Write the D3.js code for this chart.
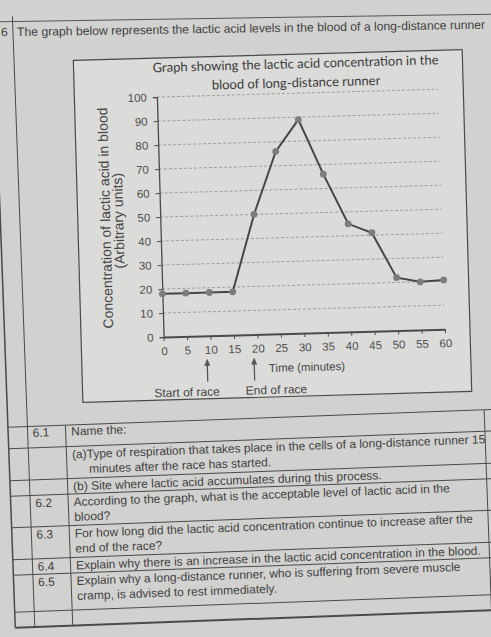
<!DOCTYPE html>
<html>
<head>
<meta charset="utf-8">
<title>Lactic acid in the blood of a long-distance runner</title>
<script src="https://d3js.org/d3.v7.min.js"></script>
<style>
  body { margin: 0; background: #d1d1cf; }
  svg { display: block; }
  text { white-space: pre; }
</style>
</head>
<body>
<script>

// data
var times = [0, 5, 10, 15, 20, 25, 30, 35, 40, 45, 50, 55, 60];
var lactic = [18, 18, 18, 18, 50, 76, 89, 66, 45, 41, 22, 20, 20.5];
var x_ticks = [0, 5, 10, 15, 20, 25, 30, 35, 40, 45, 50, 55, 60];
var y_ticks = [0, 10, 20, 30, 40, 50, 60, 70, 80, 90, 100];
var event_times = [10, 20];
var event_labels = ["Start of race", "End of race"];

var title_lines = ["Graph showing the lactic acid concentration in the", "blood of long-distance runner"];
var y_label_lines = ["Concentration of lactic acid in blood", "(Arbitrary units)"];
var x_label = "Time (minutes)";

var q_number = "6";
var intro = "The graph below represents the lactic acid levels in the blood of a long-distance runner";
var row_numbers = ["6.1", "", "", "6.2", "6.3", "6.4", "6.5", ""];
var row_texts = [
  ["Name the:"],
  ["(a)Type of respiration that takes place in the cells of a long-distance runner 15", "     minutes after the race has started."],
  ["(b) Site where lactic acid accumulates during this process."],
  ["According to the graph, what is the acceptable level of lactic acid in the", "blood?"],
  ["For how long did the lactic acid concentration continue to increase after the", "end of the race?"],
  ["Explain why there is an increase in the lactic acid concentration in the blood."],
  ["Explain why a long-distance runner, who is suffering from severe muscle", "cramp, is advised to rest immediately."],
  []
];
var row_heights = [21.5, 32, 15.5, 31.5, 32, 15.5, 37, 15.5];

var width = 491, height = 637;
var ink = "#3e3e3e";

var svg = d3.select("body").append("svg")
  .attr("width", width)
  .attr("height", height);

// the photo is a bit skewed, so every part gets its own small tilt
// --- header row
var head = svg.append("g").attr("transform", "rotate(-0.9,245,30)");
head.append("line")
  .attr("x1", -10).attr("x2", width + 10)
  .attr("y1", 18).attr("y2", 18)
  .attr("stroke", "#555").attr("stroke-width", 1);
head.append("text")
  .attr("x", 1).attr("y", 32.5)
  .attr("font-family", "Liberation Sans, Arial, sans-serif")
  .attr("font-size", 12.2)
  .attr("fill", ink)
  .text(q_number);
head.append("text")
  .attr("x", 17).attr("y", 32.5)
  .attr("font-family", "Liberation Sans, Arial, sans-serif")
  .attr("font-size", 12.2)
  .attr("fill", ink)
  .text(intro);

// --- chart
var chart = svg.append("g").attr("transform", "rotate(-1.6,270,225)");

chart.append("rect")
  .attr("x", 78).attr("y", 55)
  .attr("width", 389).attr("height", 342)
  .attr("fill", "#dbdbd9")
  .attr("stroke", "#4a4a4a")
  .attr("stroke-width", 1.2);

var x = d3.scaleLinear().domain([0, 60]).range([160.5, 442]);
var y = d3.scaleLinear().domain([0, 100]).range([334, 94]);

// title
chart.selectAll(".title")
  .data(title_lines)
  .enter().append("text")
  .attr("class", "title")
  .attr("x", 300)
  .attr("y", function (d, i) { return 69 + i * 19; })
  .attr("text-anchor", "middle")
  .attr("font-family", "Lato, sans-serif")
  .attr("font-size", 13)
  .attr("fill", "#3a3a3a")
  .text(function (d) { return d; });

// dashed grid
chart.selectAll(".grid")
  .data(y_ticks.slice(1))
  .enter().append("line")
  .attr("class", "grid")
  .attr("x1", x(0)).attr("x2", x(60))
  .attr("y1", function (d) { return y(d); })
  .attr("y2", function (d) { return y(d); })
  .attr("stroke", "#8e8e8e")
  .attr("stroke-width", 0.8)
  .attr("stroke-dasharray", "3,2");

// axes
var y_axis = chart.append("g")
  .attr("transform", "translate(" + x(0) + ",0)")
  .call(d3.axisLeft(y).tickValues(y_ticks).tickSize(4).tickPadding(6));
var x_axis = chart.append("g")
  .attr("transform", "translate(0," + y(0) + ")")
  .call(d3.axisBottom(x).tickValues(x_ticks).tickSize(4).tickSizeOuter(0).tickPadding(6));

[y_axis, x_axis].forEach(function (a) {
  a.selectAll("text")
    .attr("font-family", "Liberation Sans, Arial, sans-serif")
    .attr("font-size", 11.5)
    .attr("fill", "#505050");
  a.selectAll("line").attr("stroke", "#4a4a4a");
  a.select(".domain").attr("stroke", "#4a4a4a").attr("stroke-width", 1.3);
});
x_axis.select(".domain").attr("stroke-width", 2);

// axis titles
chart.selectAll(".ylabel")
  .data(y_label_lines)
  .enter().append("text")
  .attr("class", "ylabel")
  .attr("transform", function (d, i) {
    return "translate(" + (110.5 + i * 13) + "," + (213.5 + i * 3) + ") rotate(-90)";
  })
  .attr("text-anchor", "middle")
  .attr("font-family", "Liberation Sans, Arial, sans-serif")
  .attr("font-size", 14)
  .attr("fill", "#454545")
  .text(function (d) { return d; });

chart.append("text")
  .attr("x", 303).attr("y", 372)
  .attr("text-anchor", "middle")
  .attr("font-family", "Liberation Sans, Arial, sans-serif")
  .attr("font-size", 11.5)
  .attr("fill", "#454545")
  .text(x_label);

// the series
var line = d3.line()
  .x(function (d, i) { return x(times[i]); })
  .y(function (d) { return y(d); });

chart.append("path")
  .datum(lactic)
  .attr("d", line)
  .attr("fill", "none")
  .attr("stroke", "#474747")
  .attr("stroke-width", 2);

chart.selectAll(".pt")
  .data(lactic)
  .enter().append("circle")
  .attr("class", "pt")
  .attr("cx", function (d, i) { return x(times[i]); })
  .attr("cy", function (d) { return y(d); })
  .attr("r", 3.4)
  .attr("fill", "#7d7d7d");

// start / end arrows under the axis
var label_dx = [-21, 21.5];
event_times.forEach(function (t, i) {
  var ax = x(t) - 4;
  chart.append("line")
    .attr("x1", ax).attr("x2", ax)
    .attr("y1", 363).attr("y2", 380)
    .attr("stroke", "#555").attr("stroke-width", 1.3);
  chart.append("path")
    .attr("d", "M" + ax + ",357 L" + (ax - 3) + ",364 L" + (ax + 3) + ",364 Z")
    .attr("fill", "#555");
  chart.append("text")
    .attr("x", ax + label_dx[i]).attr("y", 394)
    .attr("text-anchor", "middle")
    .attr("font-family", "Liberation Sans, Arial, sans-serif")
    .attr("font-size", 12)
    .attr("fill", "#454545")
    .text(event_labels[i]);
});

// --- question table
var table = svg.append("g").attr("transform", "rotate(-2.1,250,520)");
var col_x = [11.5, 31, 69, 488];
var top_y = 418.5;

var row_tops = [];
var acc = top_y;
row_heights.forEach(function (h) { row_tops.push(acc); acc += h; });
var bottom_y = acc;

table.selectAll(".hline")
  .data(row_tops.concat([bottom_y]))
  .enter().append("line")
  .attr("class", "hline")
  .attr("x1", col_x[0]).attr("x2", col_x[3] + 10)
  .attr("y1", function (d) { return d; })
  .attr("y2", function (d) { return d; })
  .attr("stroke", "#4a4a4a")
  .attr("stroke-width", function (d) { return d === bottom_y ? 2 : 1; });

// outer border and the number column run up the whole page
table.append("line")
  .attr("x1", col_x[0]).attr("x2", col_x[0])
  .attr("y1", 0).attr("y2", bottom_y)
  .attr("stroke", "#4a4a4a").attr("stroke-width", 1.5);
table.append("line")
  .attr("x1", col_x[1]).attr("x2", col_x[1])
  .attr("y1", 8).attr("y2", bottom_y)
  .attr("stroke", "#4a4a4a").attr("stroke-width", 1);
[col_x[2], col_x[3]].forEach(function (cx) {
  table.append("line")
    .attr("x1", cx).attr("x2", cx)
    .attr("y1", top_y).attr("y2", bottom_y)
    .attr("stroke", "#4a4a4a").attr("stroke-width", 1);
});

row_numbers.forEach(function (n, i) {
  table.append("text")
    .attr("x", col_x[1] + 5)
    .attr("y", row_tops[i] + (i === 0 ? 10.5 : 12))
    .attr("font-family", "Liberation Sans, Arial, sans-serif")
    .attr("font-size", 12)
    .attr("fill", ink)
    .text(n);
  row_texts[i].forEach(function (s, j) {
    table.append("text")
      .attr("x", col_x[2] + 5.5)
      .attr("y", row_tops[i] + (i === 0 ? 10.5 : 12) + j * 15)
      .attr("font-family", "Liberation Sans, Arial, sans-serif")
      .attr("font-size", 12)
      .attr("fill", ink)
      .text(s);
  });
});

</script>
</body>
</html>
